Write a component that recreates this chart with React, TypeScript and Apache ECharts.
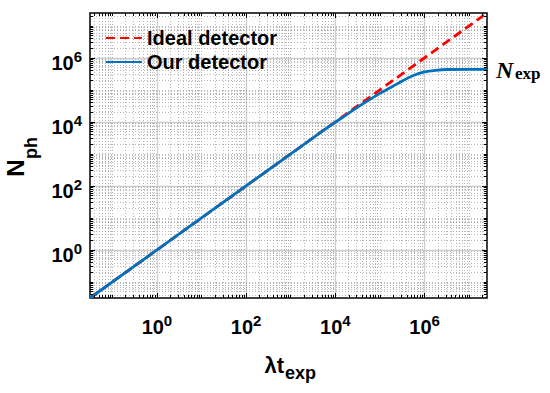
import React, { useEffect, useRef } from 'react';
import * as echarts from 'echarts';

// ---- data ----
const idealLambdaT = [0.0316, 2.51e7];
const idealN = [0.0316, 2.51e7];

const ourLambdaT = [0.0316, 3162, 10000, 17783, 31623, 56234, 100000, 177828, 316228, 562341, 1000000, 1778279, 3162278, 10000000, 25100000];
const ourN = [0.0316, 3162, 9770, 16600, 28800, 47900, 77600, 120000, 190000, 282000, 363000, 407000, 432000, 436000, 436000];

const labeledDecades = [0, 2, 4, 6];
const otherDecades = [-1, 1, 3, 5, 7];
const minorMultipliers = [2, 3, 4, 5, 6, 7, 8, 9];
const seriesNames = ['Ideal detector', 'Our detector'];

// axis range in decades
const axisMinExp = -1.5;
const axisMaxExp = 7.4;

const FONT = '"Liberation Sans", Arial, Helvetica, sans-serif';
const SERIF = '"Liberation Serif", "Times New Roman", serif';

export default function App() {
  const ref = useRef<HTMLDivElement>(null);

  useEffect(() => {
    if (!ref.current) return;
    const chart = echarts.init(ref.current, undefined, { renderer: 'svg' });

    const gridLeft = 90, gridTop = 13, gridRight = 63, gridBottom = 95;
    const plotW = 550 - gridLeft - gridRight;
    const plotH = 393 - gridTop - gridBottom;
    const span = axisMaxExp - axisMinExp;
    const xPerPx = span / plotW;
    const yPerPx = span / plotH;

    const inside = (v: number) => v > axisMinExp + 1e-6 && v < axisMaxExp - 1e-6;
    const minorExps: number[] = [];
    for (let n = -2; n <= 7; n++) {
      for (const k of minorMultipliers) {
        const v = n + Math.log10(k);
        if (inside(v)) minorExps.push(v);
      }
    }
    otherDecades.forEach((d) => { if (inside(d)) minorExps.push(d); });
    const majorExps = labeledDecades.filter(inside);

    const majorStyle = { color: '#cdcdcd', width: 1.3, type: 'solid' as const };
    const minorStyle = { color: '#9a9a9a', width: 0.7, type: [1, 2] as any };

    const gridLines: any[] = [];
    majorExps.forEach((v) => {
      gridLines.push({ xAxis: v, lineStyle: majorStyle });
      gridLines.push({ yAxis: v, lineStyle: majorStyle });
    });
    minorExps.forEach((v) => {
      gridLines.push({ xAxis: v, lineStyle: minorStyle });
      gridLines.push({ yAxis: v, lineStyle: minorStyle });
    });

    const tickStyle = { color: '#000', width: 1, type: 'solid' as const };
    const ticks: any[] = [];
    const addTicks = (v: number, len: number) => {
      ticks.push([{ coord: [v, axisMinExp], lineStyle: tickStyle }, { coord: [v, axisMinExp + len * yPerPx] }]);
      ticks.push([{ coord: [v, axisMaxExp], lineStyle: tickStyle }, { coord: [v, axisMaxExp - len * yPerPx] }]);
      ticks.push([{ coord: [axisMinExp, v], lineStyle: tickStyle }, { coord: [axisMinExp + len * xPerPx, v] }]);
      ticks.push([{ coord: [axisMaxExp, v], lineStyle: tickStyle }, { coord: [axisMaxExp - len * xPerPx, v] }]);
    };
    majorExps.forEach((v) => addTicks(v, 5));
    minorExps.forEach((v) => addTicks(v, 3));

    const toLog = (xs: number[], ys: number[]) => xs.map((x, i) => [Math.log10(x), Math.log10(ys[i])]);

    const isLabeled = (v: number) => {
      const r = Math.round(v);
      return Math.abs(v - r) < 1e-6 && labeledDecades.indexOf(r) >= 0 ? r : null;
    };

    const rich = {
      b: { fontSize: 20, fontWeight: 'bold', fontFamily: FONT, color: '#000', lineHeight: 28 },
      s: { fontSize: 15, fontWeight: 'bold', fontFamily: FONT, color: '#000', lineHeight: 10, verticalAlign: 'top' },
    };

    const option: any = {
      animation: false,
      grid: {
        left: gridLeft, top: gridTop, right: gridRight, bottom: gridBottom,
        show: true, borderColor: '#000', borderWidth: 1.5, backgroundColor: '#fff',
      },
      xAxis: {
        type: 'value', min: axisMinExp, max: axisMaxExp, interval: 0.5,
        axisLine: { show: false }, axisTick: { show: false }, splitLine: { show: false },
        axisLabel: {
          margin: 15, showMinLabel: false, showMaxLabel: false,
          formatter: (v: number) => { const r = isLabeled(v); return r === null ? '' : `{b|10}{s|${r}}`; },
          rich,
        },
      },
      yAxis: {
        type: 'value', min: axisMinExp, max: axisMaxExp, interval: 0.5,
        axisLine: { show: false }, axisTick: { show: false }, splitLine: { show: false },
        axisLabel: {
          margin: 8, showMinLabel: false, showMaxLabel: false, padding: [10, 0, 0, 0],
          formatter: (v: number) => { const r = isLabeled(v); return r === null ? '' : `{b|10}{s|${r}}`; },
          rich,
        },
      },
      legend: {
        data: seriesNames,
        orient: 'vertical', left: 105, top: 28, padding: 0,
        itemWidth: 36, itemHeight: 14, itemGap: 4,
        itemStyle: { opacity: 0 },
        textStyle: { fontSize: 20, fontWeight: 'bold', fontFamily: FONT, color: '#000' },
      },
      series: [
        {
          name: '__grid', type: 'line', data: [[axisMinExp, axisMinExp]], symbol: 'none', silent: true,
          lineStyle: { opacity: 0 }, z: 1,
          markLine: { silent: true, symbol: ['none', 'none'], label: { show: false }, z: 1, animation: false, data: gridLines },
        },
        {
          name: '__ticks', type: 'line', data: [[axisMinExp, axisMinExp]], symbol: 'none', silent: true,
          lineStyle: { opacity: 0 }, z: 6,
          markLine: { silent: true, symbol: ['none', 'none'], label: { show: false }, z: 6, animation: false, data: ticks },
        },
        {
          name: seriesNames[0], type: 'line', data: toLog(idealLambdaT, idealN), showSymbol: false, symbol: 'none',
          lineStyle: { color: '#FF0000', width: 2.8, type: [9, 5] }, itemStyle: { color: '#FF0000' }, z: 3,
        },
        {
          name: seriesNames[1], type: 'line', data: toLog(ourLambdaT, ourN), showSymbol: false, symbol: 'none',
          smooth: 0.3, lineStyle: { color: '#0072BD', width: 2.8 }, itemStyle: { color: '#0072BD' }, z: 4,
        },
      ],
      graphic: [
        { type: 'text', x: 284, y: 365, style: { text: 'λt', font: `bold 22px ${FONT}`, fill: '#000', align: 'right', textAlign: 'right', verticalAlign: 'middle', textVerticalAlign: 'middle' } },
        { type: 'text', x: 285, y: 373, style: { text: 'exp', font: `bold 18px ${FONT}`, fill: '#000', align: 'left', textAlign: 'left', verticalAlign: 'middle', textVerticalAlign: 'middle' } },
        { type: 'text', x: 15, y: 168, rotation: Math.PI / 2, style: { text: 'N', font: `bold 24px ${FONT}`, fill: '#000', align: 'center', textAlign: 'center', verticalAlign: 'middle', textVerticalAlign: 'middle' } },
        { type: 'text', x: 31, y: 148, rotation: Math.PI / 2, style: { text: 'ph', font: `bold 18px ${FONT}`, fill: '#000', align: 'center', textAlign: 'center', verticalAlign: 'middle', textVerticalAlign: 'middle' } },
        { type: 'text', x: 496, y: 70, style: { text: 'N', font: `italic bold 24px ${SERIF}`, fill: '#000', align: 'left', textAlign: 'left', verticalAlign: 'middle', textVerticalAlign: 'middle' } },
        { type: 'text', x: 515, y: 73.5, style: { text: 'exp', font: `bold 17px ${SERIF}`, fill: '#000', align: 'left', textAlign: 'left', verticalAlign: 'middle', textVerticalAlign: 'middle' } },
      ],
    };

    chart.setOption(option);
    return () => chart.dispose();
  }, []);

  return <div ref={ref} style={{ position: 'fixed', left: 0, top: 0, width: 550, height: 393, background: '#fff' }} />;
}
